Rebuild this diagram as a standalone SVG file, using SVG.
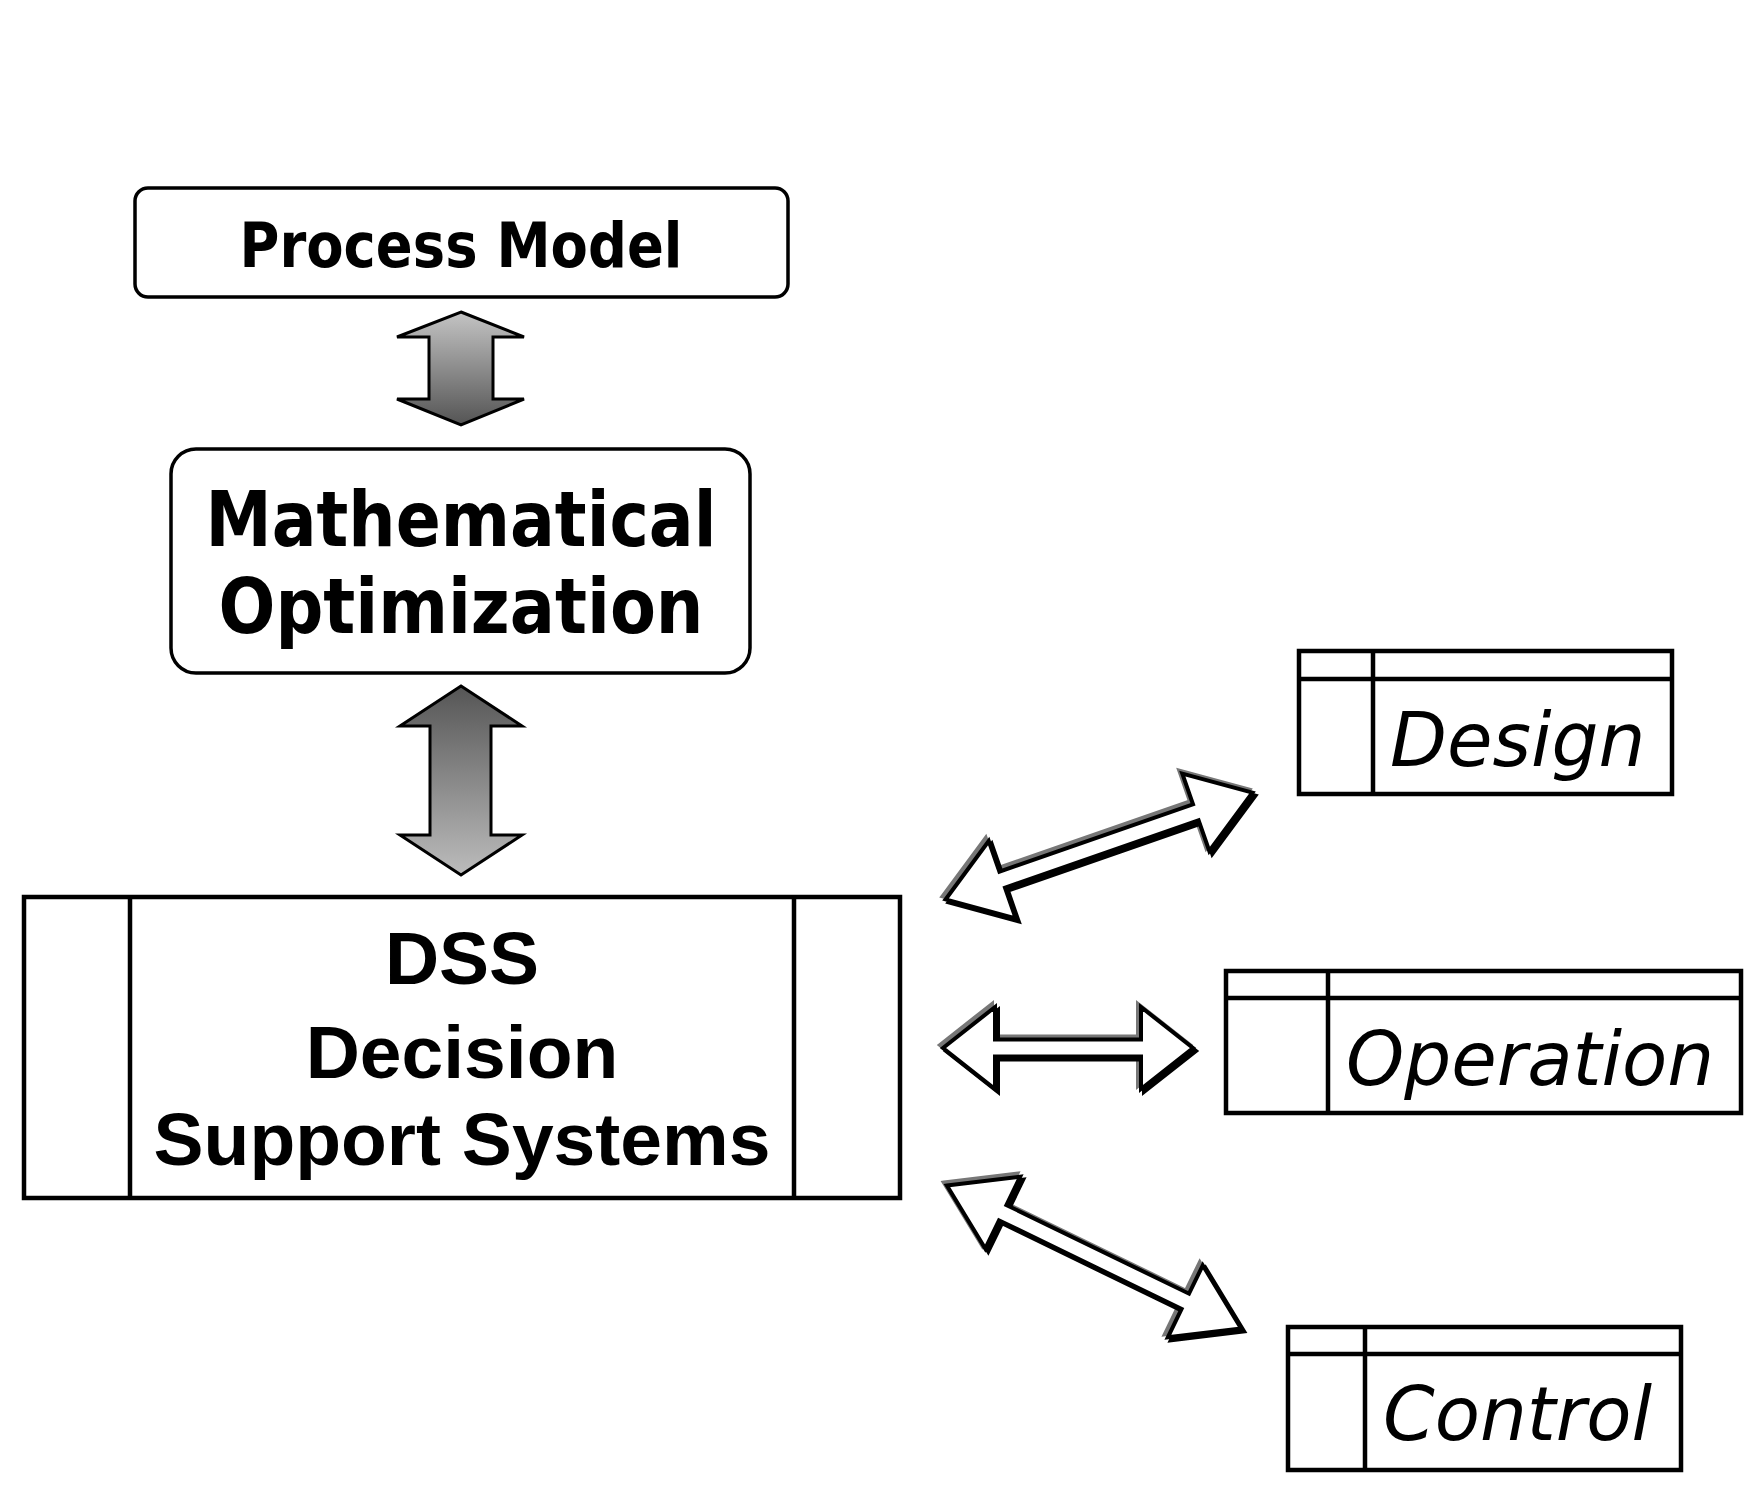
<svg xmlns="http://www.w3.org/2000/svg" xmlns:xlink="http://www.w3.org/1999/xlink" width="1746" height="1486" viewBox="0 0 1746 1486">
<style>
.box{fill:#fff;stroke:#000;stroke-width:3.5}
.thick{fill:#fff;stroke:#000;stroke-width:4.5}
.ln{stroke:#000;stroke-width:4.5;fill:none}
.vb{font-family:"DejaVu Sans",Verdana,sans-serif;font-weight:bold;fill:#000;text-anchor:middle}
.ar{font-family:"Liberation Sans",Arial,sans-serif;font-weight:bold;fill:#000;text-anchor:middle;font-size:75px}
.it{font-family:"DejaVu Sans",Verdana,sans-serif;font-style:italic;fill:#000;font-size:74px}
.garrow{stroke:#000;stroke-width:3;stroke-linejoin:miter}
.dmain{fill:#fff;stroke:#000;stroke-width:4;stroke-linejoin:miter}
.dgray{fill:#777;stroke:#777;stroke-width:4;stroke-linejoin:miter}
.dblack{fill:#000;stroke:#000;stroke-width:4;stroke-linejoin:miter}
</style>
<defs>
<linearGradient id="g1" x1="0" y1="0" x2="0" y2="1">
<stop offset="0" stop-color="#c4c4c4"/>
<stop offset="1" stop-color="#545454"/>
</linearGradient>
<linearGradient id="g2" x1="0" y1="0" x2="0" y2="1">
<stop offset="0" stop-color="#555555"/>
<stop offset="1" stop-color="#bcbcbc"/>
</linearGradient>
<polygon id="aDesign" transform="translate(1099,846) rotate(-19.2)" points="-162.5,0 -102.5,-41 -102.5,-8.5 102.5,-8.5 102.5,-41 162.5,0 102.5,41 102.5,8.5 -102.5,8.5 -102.5,41"/>
<polygon id="aOper" transform="translate(1068,1048)" points="-125,0 -73,-41 -73,-8.5 73,-8.5 73,-41 125,0 73,41 73,8.5 -73,8.5 -73,41"/>
<polygon id="aCtrl" transform="translate(1094,1257) rotate(25.9)" points="-163.5,0 -101.5,-40 -101.5,-8.5 101.5,-8.5 101.5,-40 163.5,0 101.5,40 101.5,8.5 -101.5,8.5 -101.5,40"/>
</defs>
<rect width="1746" height="1486" fill="#fff"/>

<g id="process-model">
<rect class="box" x="135" y="188" width="653" height="109" rx="13"/>
<text class="vb" x="461" y="267" font-size="63" textLength="443" lengthAdjust="spacingAndGlyphs">Process Model</text>
</g>

<g id="math-opt">
<rect class="box" x="171" y="449" width="579" height="224" rx="25"/>
<text class="vb" x="461" y="546" font-size="77" textLength="511" lengthAdjust="spacingAndGlyphs">Mathematical</text>
<text class="vb" x="461" y="633" font-size="77" textLength="485" lengthAdjust="spacingAndGlyphs">Optimization</text>
</g>

<g id="dss">
<rect class="thick" x="24" y="897" width="876" height="301"/>
<line class="ln" x1="130" y1="897" x2="130" y2="1198"/>
<line class="ln" x1="794" y1="897" x2="794" y2="1198"/>
<text class="ar" x="462" y="984">DSS</text>
<text class="ar" x="462" y="1078">Decision</text>
<text class="ar" x="462" y="1165">Support Systems</text>
</g>

<g id="design">
<rect class="thick" x="1299" y="651" width="373" height="143"/>
<line class="ln" x1="1299" y1="679" x2="1672" y2="679"/>
<line class="ln" x1="1373" y1="651" x2="1373" y2="794"/>
<text class="it" x="1390" y="766">Design</text>
</g>

<g id="operation">
<rect class="thick" x="1226" y="971" width="515" height="142"/>
<line class="ln" x1="1226" y1="998" x2="1741" y2="998"/>
<line class="ln" x1="1328" y1="971" x2="1328" y2="1113"/>
<text class="it" x="1346" y="1085">Operation</text>
</g>

<g id="control">
<rect class="thick" x="1288" y="1327" width="393" height="143"/>
<line class="ln" x1="1288" y1="1354" x2="1681" y2="1354"/>
<line class="ln" x1="1365" y1="1327" x2="1365" y2="1470"/>
<text class="it" x="1383" y="1440">Control</text>
</g>

<g id="connectors">
<polygon class="garrow" fill="url(#g1)" points="461,312 524,337 493,337 493,399 524,399 461,425 397,399 429,399 429,337 397,337"/>
<polygon class="garrow" fill="url(#g2)" points="461,686 522,726 491,726 491,835 522,835 461,875 400,835 430,835 430,726 400,726"/>
<g transform="translate(-3,-3)"><use xlink:href="#aDesign" class="dgray"/></g>
<g transform="translate(3,3)"><use xlink:href="#aDesign" class="dblack"/></g>
<use xlink:href="#aDesign" class="dmain"/>
<g transform="translate(-3,-3)"><use xlink:href="#aOper" class="dgray"/></g>
<g transform="translate(3,3)"><use xlink:href="#aOper" class="dblack"/></g>
<use xlink:href="#aOper" class="dmain"/>
<g transform="translate(-3,-3)"><use xlink:href="#aCtrl" class="dgray"/></g>
<g transform="translate(3,3)"><use xlink:href="#aCtrl" class="dblack"/></g>
<use xlink:href="#aCtrl" class="dmain"/>
</g>
</svg>
